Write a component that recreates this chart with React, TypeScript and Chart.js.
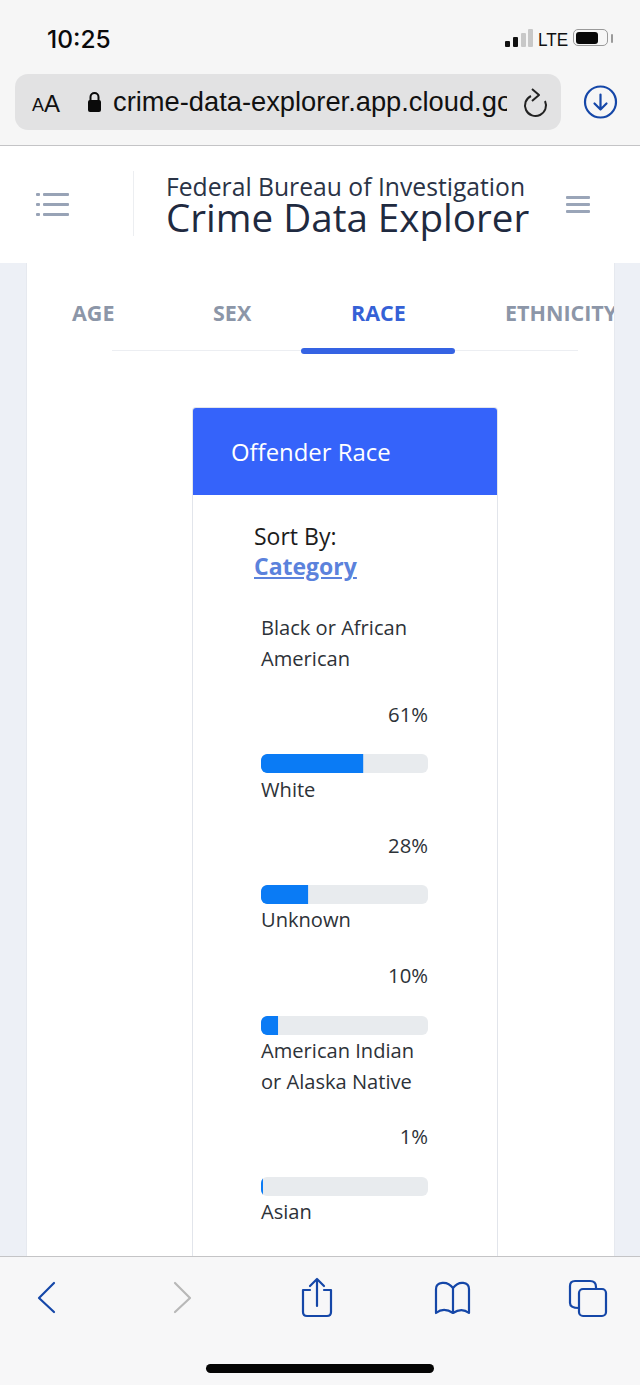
import React, { useEffect, useRef } from "react";
import { Chart, registerables } from "chart.js";

Chart.register(...registerables);

const categories = ["Black or African American", "White", "Unknown", "American Indian or Alaska Native", "Asian"];
const categoryLines = [["Black or African", "American"], ["White"], ["Unknown"], ["American Indian", "or Alaska Native"], ["Asian"]];
const shares = [61, 28, 10, 1];
const shareLabels = ["61%", "28%", "10%", "1%"];
const tabs = ["AGE", "SEX", "RACE", "ETHNICITY"];
const rowLabelTops = [627.5, 789.5, 920, 1050.5, 1212];
const rowPercentTops = [713.5, 844.5, 975, 1136];
const rowBarTops = [754, 885, 1016, 1177];

const site = '"Open Sans", "Noto Sans", sans-serif';
const ios = 'Inter, Roboto, "Liberation Sans", sans-serif';
const helv = '"Liberation Sans", Arimo, sans-serif';

function T(p: { x?: number; r?: number; y: number; s: number; c: string; f?: string; w?: number; t: string; u?: boolean; sx?: number }) {
  const h = Math.round(p.s * 0.8);
  return (
    <div
      style={{
        position: "absolute",
        left: p.x,
        right: p.r,
        top: p.y - h / 2,
        height: h,
        lineHeight: h + "px",
        fontSize: p.s,
        color: p.c,
        fontFamily: p.f || site,
        fontWeight: p.w || 400,
        whiteSpace: "nowrap",
        textDecoration: p.u ? "underline" : "none",
        transform: p.sx ? `scaleX(${p.sx})` : undefined,
        transformOrigin: "left center",
      }}
    >
      {p.t}
    </div>
  );
}

function Box(p: { x: number; y: number; w: number; h: number; c: string; r?: number; style?: React.CSSProperties; children?: React.ReactNode }) {
  return (
    <div style={{ position: "absolute", left: p.x, top: p.y, width: p.w, height: p.h, background: p.c, borderRadius: p.r || 0, ...p.style }}>
      {p.children}
    </div>
  );
}

function Bar({ label, value, top }: { label: string; value: number; top: number }) {
  const ref = useRef<HTMLCanvasElement>(null);
  useEffect(() => {
    const chart = new Chart(ref.current!, {
      type: "bar",
      data: {
        labels: [label],
        datasets: [
          {
            data: [value],
            backgroundColor: "#0a7bf5",
            barPercentage: 1,
            categoryPercentage: 1,
            borderRadius: { topLeft: 7, bottomLeft: 7, topRight: 0, bottomRight: 0 },
            borderSkipped: false,
          },
        ],
      },
      options: {
        indexAxis: "y",
        animation: false,
        responsive: false,
        maintainAspectRatio: false,
        layout: { padding: 0 },
        plugins: { legend: { display: false }, tooltip: { enabled: false }, title: { display: false } },
        scales: {
          x: { display: false, min: 0, max: 100 },
          y: { display: false },
        },
      },
    });
    return () => chart.destroy();
  }, [label, value]);
  return (
    <div style={{ position: "absolute", left: 261, top, width: 167, height: 19, background: "#e8ebee", borderRadius: 6, overflow: "hidden" }}>
      <canvas ref={ref} width={167} height={19} style={{ display: "block", width: 167, height: 19 }} />
    </div>
  );
}

const navBlue = "#1547a8";
const tabX = [72, 213, 351, 505];

export default function App() {
  return (
    <div style={{ position: "absolute", left: 0, top: 0, width: 640, height: 1385, overflow: "hidden", background: "#fff" }}>
      {/* top browser chrome */}
      <Box x={0} y={0} w={640} h={145} c="#f6f6f6" />
      <Box x={0} y={145} w={640} h={1} c="#c4c4c6" />
      <T x={47} y={38.5} s={24.5} w={500} c="#0a0a0a" f={ios} t="10:25" />
      <Box x={505} y={41} w={5} h={6} c="#111" r={1} />
      <Box x={513} y={37} w={5} h={10} c="#111" r={1} />
      <Box x={521} y={33} w={5} h={14} c="#c8c8c8" r={1} />
      <Box x={528} y={29} w={5} h={18} c="#c8c8c8" r={1} />
      <T x={538} y={39} s={19} c="#111" f={helv} t="LTE" sx={0.9} />
      <div style={{ position: "absolute", left: 573, top: 29, width: 33, height: 15, border: "1.5px solid #9a9a9a", borderRadius: 5, boxSizing: "content-box" }} />
      <Box x={576} y={32} w={22} h={12} c="#080808" r={3} />
      <Box x={611} y={34} w={1.5} h={9} c="#9a9a9a" r={1} />

      <Box x={15} y={74} w={546} h={56} c="#e2e2e3" r={13} />
      <T x={32} y={104.5} s={18} c="#111" f={helv} t="A" />
      <T x={44} y={103} s={24} c="#111" f={helv} t="A" />
      <svg style={{ position: "absolute", left: 85, top: 90, width: 18, height: 24 }} viewBox="0 0 18 24">
        <rect x="3" y="10" width="13" height="12" rx="2" fill="#0a0a0a" />
        <path d="M5.5 11V7a4 4 0 0 1 8 0V11" fill="none" stroke="#0a0a0a" strokeWidth="2" />
      </svg>
      <div style={{ position: "absolute", left: 113, top: 82, width: 394, height: 40, overflow: "hidden" }}>
        <div style={{ lineHeight: "40px", fontSize: 27.3, color: "#111", fontFamily: helv, whiteSpace: "nowrap" }}>crime-data-explorer.app.cloud.gov</div>
      </div>
      <svg style={{ position: "absolute", left: 518, top: 84, width: 34, height: 38 }} viewBox="0 0 34 38" fill="none" stroke="#222" strokeWidth="2">
        <path d="M13 12 A10.5 10.5 0 1 0 27 17" />
        <path d="M14 5 L21 11 L14 17" strokeLinejoin="round" />
      </svg>
      <svg style={{ position: "absolute", left: 582, top: 84, width: 37, height: 37 }} viewBox="0 0 37 37" fill="none" stroke={navBlue} strokeWidth="2.2">
        <circle cx="18.5" cy="18" r="15.5" />
        <path d="M18.5 10.5V25.5M12.5 19.5l6 6 6-6" strokeLinecap="round" strokeLinejoin="round" />
      </svg>

      {/* site header */}
      {[192.5, 202.5, 212.5].map((y, i) => (
        <React.Fragment key={i}>
          <Box x={36} y={y} w={4} h={3.4} c="#98a3b6" r={1} />
          <Box x={43} y={y} w={25.5} h={3.4} c="#98a3b6" r={1} />
        </React.Fragment>
      ))}
      <Box x={133} y={171} w={1} h={65} c="#eceef1" />
      <T x={166} y={186.5} s={24.7} c="#2a3346" t="Federal Bureau of Investigation" />
      <T x={166} y={217} s={38.6} c="#1f2a40" t="Crime Data Explorer" />
      {[197, 204, 211].map((y, i) => (
        <Box key={i} x={566} y={y - 1} w={24} h={2.8} c="#9aa5b8" r={1} />
      ))}

      {/* page panel */}
      <Box x={0} y={263} w={26} h={993} c="#edf0f6" />
      <Box x={614} y={263} w={26} h={993} c="#edf0f6" />
      <Box x={26} y={263} w={1} h={993} c="#e6e9ef" />
      <Box x={613.5} y={263} w={0.5} h={993} c="#e6e9ef" />

      {/* tabs */}
      <Box x={112} y={350} w={466} h={1} c="#eceef2" />
      <Box x={301} y={348} w={154} h={6} c="#3563e3" r={3} />
      <div style={{ position: "absolute", left: 27, top: 290, width: 587, height: 50, overflow: "hidden" }}>
        {tabs.map((t, i) => (
          <div
            key={t}
            style={{
              position: "absolute",
              left: tabX[i] - 27,
              top: 3,
              lineHeight: "40px",
              fontSize: 21.5,
              fontWeight: 700,
              fontFamily: site,
              whiteSpace: "nowrap",
              color: t === "RACE" ? "#3561d6" : "#8c96a8",
            }}
          >
            {t}
          </div>
        ))}
      </div>

      {/* card */}
      <div style={{ position: "absolute", left: 192, top: 407, width: 304, height: 849, border: "1px solid #e2e5eb", borderBottom: "none", borderRadius: "4px 4px 0 0", boxSizing: "content-box" }} />
      <Box x={193} y={408} w={304} h={87} c="#3563fa" r={0} style={{ borderRadius: "3px 3px 0 0" }} />
      <T x={231} y={451.5} s={23.9} w={500} c="#ffffff" t="Offender Race" />
      <T x={254} y={535.5} s={23} c="#1c1c1c" t="Sort By:" />
      <T x={254} y={566} s={23} w={700} c="#5b82dc" u t="Category" />

      {categories.map((c, i) => (
        <React.Fragment key={c}>
          {categoryLines[i].map((line, j) => (
            <T key={line} x={261} y={rowLabelTops[i] + j * 31} s={20.1} c="#2d3238" t={line} />
          ))}
          {shareLabels[i] && <T r={640 - 428} y={rowPercentTops[i]} s={20.3} c="#2d3238" t={shareLabels[i]} />}
          {rowBarTops[i] !== undefined && <Bar label={c} value={shares[i]} top={rowBarTops[i]} />}
        </React.Fragment>
      ))}

      {/* bottom browser chrome */}
      <Box x={0} y={1256} w={640} h={129} c="#f7f7f8" />
      <Box x={0} y={1256} w={640} h={1} c="#c4c4c6" />
      <svg style={{ position: "absolute", left: 0, top: 1256, width: 640, height: 129 }} viewBox="0 0 640 129" fill="none" stroke={navBlue} strokeWidth="2.2" strokeLinecap="round" strokeLinejoin="round">
        <path d="M54 27 L39 42 L54 56" />
        <path d="M175 27 L190 42 L175 56" stroke="#b8b8b8" />
        <path d="M310 34 H303 V56 Q303 60 307 60 H327 Q331 60 331 56 V34 H324" />
        <path d="M317 50 V23 M310 30 L317 23 L324 30" />
        <path d="M453 57 C447 53 441 53 436 57 V33 C436 26 447 24 453 32 C459 24 469 26 469 33 V57 C464 53 459 53 453 57 Z M453 32 V56" />
        <path d="M579 52 Q570 52 570 47 V30 Q570 25 575 25 H590 Q596 25 596 31 V33" />
        <rect x="579" y="33" width="27" height="27" rx="4" />
      </svg>
      <Box x={206} y={1364} w={228} h={9} c="#050505" r={5} />
    </div>
  );
}
